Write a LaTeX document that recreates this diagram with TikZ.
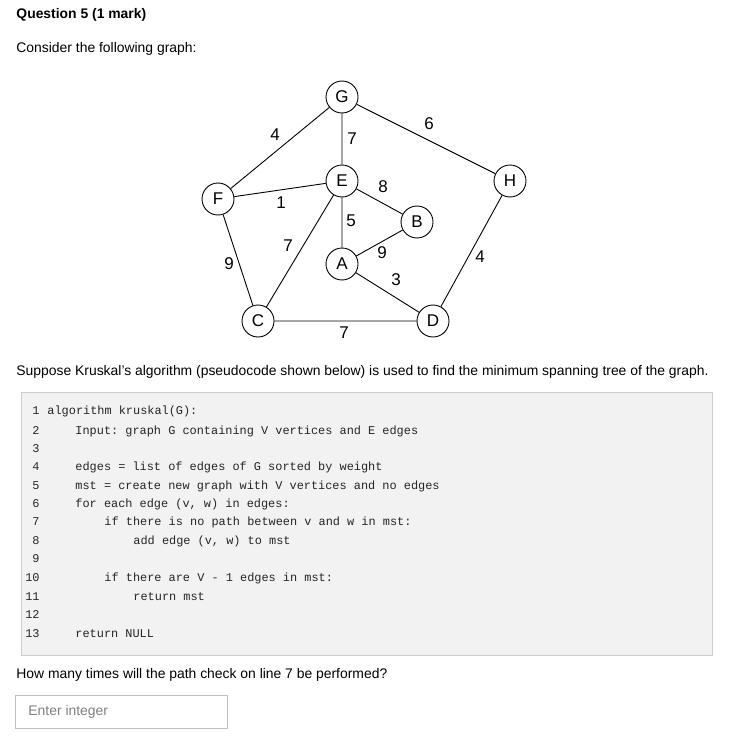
\documentclass[tikz,border=0pt]{standalone}
\usepackage{fontspec}
\setmainfont{Liberation Sans}
\setmonofont{Liberation Mono}
\begin{document}
\begin{tikzpicture}[x=1pt,y=-1pt,line width=0.9pt,
  vtx/.style={circle,draw,fill=white,minimum size=32pt,inner sep=0pt,font=\fontsize{17}{17}\selectfont},
  wt/.style={font=\fontsize{17}{17}\selectfont},
  txt/.style={anchor=west,inner sep=0pt,font=\fontsize{13.9}{15}\selectfont},
  code/.style={anchor=west,inner sep=0pt,font=\ttfamily\fontsize{11.9}{12}\selectfont,text=black!85},
  ln/.style={anchor=east,inner sep=0pt,font=\ttfamily\fontsize{11.9}{12}\selectfont,text=black!85}]
\useasboundingbox (0,0) rectangle (744,741);
\fill[white] (0,0) rectangle (744,741);
\node[txt,font=\bfseries\fontsize{13.9}{15}\selectfont] (q) at (16,15) {Question 5 (1 mark)};
\node[txt] (c1) at (16,49) {Consider the following graph:};
% graph
\node[vtx] (G) at (342,97) {G};
\node[vtx] (E) at (342,181) {E};
\node[vtx] (F) at (218,199) {F};
\node[vtx] (H) at (510,181) {H};
\node[vtx] (B) at (417,222) {B};
\node[vtx] (A) at (342,264) {A};
\node[vtx] (C) at (258,321) {C};
\node[vtx] (D) at (433,321) {D};
\draw (G)--(F) (G)--(E) (G)--(H) (F)--(E) (E)--(B) (E)--(A) (E)--(C) (A)--(B) (A)--(D) (F)--(C) (C)--(D) (H)--(D);
\node[wt] (wGF) at (275,135) {4};
\node[wt] (wGE) at (352,139) {7};
\node[wt] (wGH) at (429,124) {6};
\node[wt] (wFE) at (281,203) {1};
\node[wt] (wEB) at (383,187) {8};
\node[wt] (wEA) at (351,221) {5};
\node[wt] (wEC) at (288,246) {7};
\node[wt] (wAB) at (382,253) {9};
\node[wt] (wAD) at (396,280) {3};
\node[wt] (wFC) at (229,264) {9};
\node[wt] (wCD) at (344,333) {7};
\node[wt] (wHD) at (480,257) {4};
\node[txt] (s) at (16,372) {Suppose Kruskal's algorithm (pseudocode shown below) is used to find the minimum spanning tree of the graph.};
% code box
\node[draw=black!20,line width=0.6pt,fill=black!5,minimum width=691pt,minimum height=263pt,anchor=north west,inner sep=0pt] (box) at (21,392) {};
\foreach \n/\y in {1/411,2/431,3/449,4/467,5/486,6/504,7/522,8/541,9/559,10/578,11/597,12/615,13/634}{
  \node[ln] (l\n) at (40,\y) {\n};}
\node[code] (k1) at (47,411) {algorithm kruskal(G):};
\node[code] (k2) at (75,431) {Input: graph G containing V vertices and E edges};
\node[code] (k4) at (75,467) {edges = list of edges of G sorted by weight};
\node[code] (k5) at (75,486) {mst = create new graph with V vertices and no edges};
\node[code] (k6) at (75,504) {for each edge (v, w) in edges:};
\node[code] (k7) at (104,522) {if there is no path between v and w in mst:};
\node[code] (k8) at (133,541) {add edge (v, w) to mst};
\node[code] (k10) at (104,578) {if there are V - 1 edges in mst:};
\node[code] (k11) at (133,597) {return mst};
\node[code] (k13) at (75,634) {return NULL};
\node[txt] (h) at (16,675) {How many times will the path check on line 7 be performed?};
\node[draw=black!25,line width=0.6pt,minimum width=212pt,minimum height=33pt,anchor=north west,inner sep=0pt] (inp) at (15,695) {};
\node[txt,text=black!50] (ph) at (28,711.5) {Enter integer};
\end{tikzpicture}
\end{document}
